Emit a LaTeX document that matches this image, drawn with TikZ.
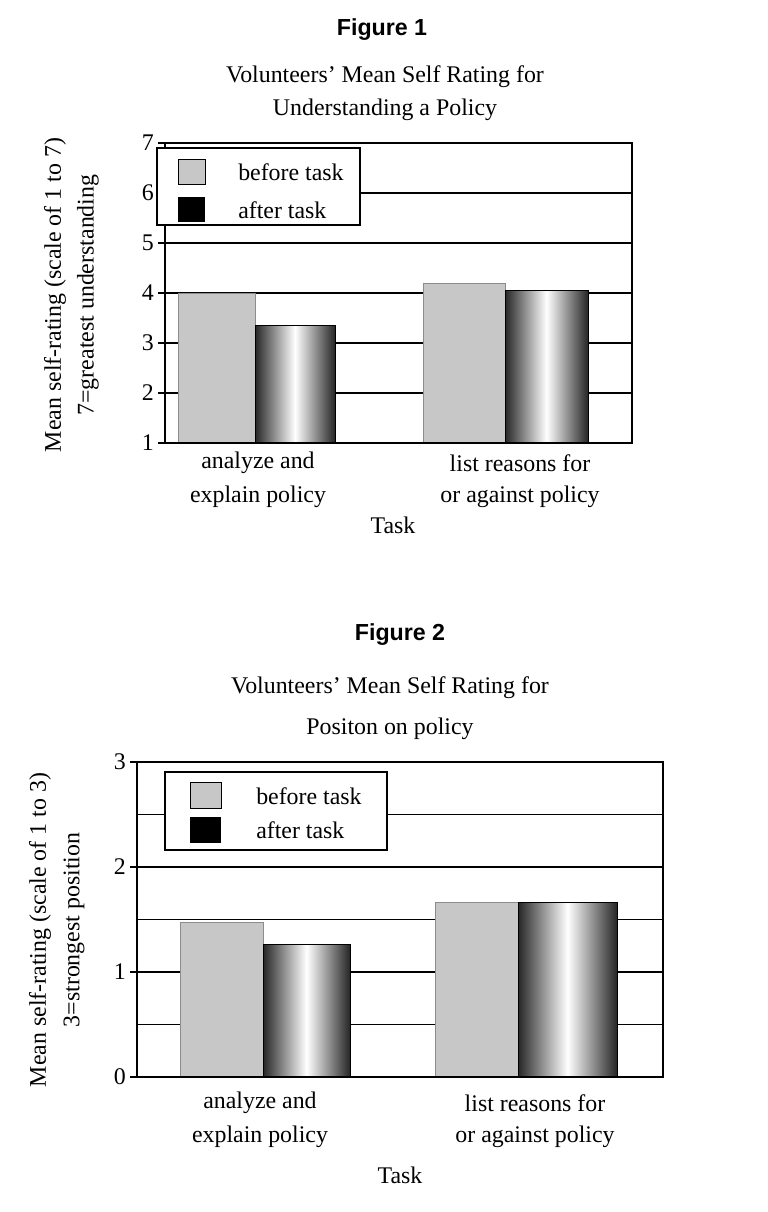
\documentclass[tikz,border=0pt]{standalone}
\usepackage{fontspec}
\setmainfont{Liberation Serif}
\newfontfamily\figsans{Liberation Sans}
\begin{document}
\begin{tikzpicture}[x=0.0265cm,y=-0.0265cm,
  txt/.style={font=\fontsize{18}{21}\selectfont,inner sep=0pt},
  ftitle/.style={font=\figsans\bfseries\fontsize{17.5}{20}\selectfont,inner sep=0pt},
  grid/.style={line width=0.9pt},
  frame/.style={draw,line width=1pt},
  before/.style={fill=black!22,draw=black!45,line width=0.4pt},
  after/.style={left color=black!85,right color=black!85,middle color=white,draw=black,line width=0.4pt}]
\useasboundingbox (0,0) rectangle (768,1212);
% ---------- Figure 1
\node[ftitle] (f1) at (382,30) {Figure 1};
\node[txt] (t1a) at (385,77) {Volunteers' Mean Self Rating for};
\node[txt] (t1b) at (385,110) {Understanding a Policy};
\foreach \v in {2,...,6} \draw[grid] (165,{443-(\v-1)*50}) -- (632,{443-(\v-1)*50});
\foreach \v in {1,...,7} {
  \draw[line width=0.9pt] (158,{443-(\v-1)*50}) -- (165,{443-(\v-1)*50});
  \node[txt,anchor=east] (y1\v) at (154,{443-(\v-1)*50}) {\v};}
\path[before] (178,293) rectangle (255,443);
\path[after] (255,325) rectangle (335,443);
\path[before] (423,283) rectangle (505,443);
\path[after] (505,290) rectangle (588,443);
\draw[frame] (165,143) rectangle (632,443);
\draw[fill=white,line width=0.8pt] (157,148) rectangle (360,225);
\path[before,draw=black] (178,159) rectangle (205,184);
\path[fill=black] (178,197) rectangle (205,222);
\node[txt,anchor=west] (l1a) at (238,172) {before task};
\node[txt,anchor=west] (l1b) at (238,210) {after task};
\node[txt] (c1a) at (258,463) {analyze and};
\node[txt] (c1b) at (258,497) {explain policy};
\node[txt] (c2a) at (520,463) {list reasons for};
\node[txt] (c2b) at (520,497) {or against policy};
\node[txt] (x1) at (393,525) {Task};
\node[txt,rotate=90] (ya1) at (55,295) {Mean self-rating (scale of 1 to 7)};
\node[txt,rotate=90] (yb1) at (88,295) {7=greatest understanding};
% ---------- Figure 2
\node[ftitle] (f2) at (400,635) {Figure 2};
\node[txt] (t2a) at (390,688) {Volunteers' Mean Self Rating for};
\node[txt] (t2b) at (390,729) {Positon on policy};
\foreach \v in {0.5,1,1.5,2,2.5} \draw[grid] (137,{1077-\v*105}) -- (663,{1077-\v*105});
\foreach \v in {0,1,2,3} {
  \draw[line width=0.9pt] (130,{1077-\v*105}) -- (137,{1077-\v*105});
  \node[txt,anchor=east] (y2\v) at (126,{1077-\v*105}) {\v};}
\path[before] (180,922) rectangle (263,1077);
\path[after] (263,944) rectangle (350,1077);
\path[before] (435,902) rectangle (518,1077);
\path[after] (518,902) rectangle (617,1077);
\draw[frame] (137,762) rectangle (663,1077);
\draw[fill=white,line width=0.8pt] (165,772) rectangle (387,850);
\path[before,draw=black] (190,782) rectangle (221,808);
\path[fill=black] (190,817) rectangle (221,843);
\node[txt,anchor=west] (l2a) at (256,796) {before task};
\node[txt,anchor=west] (l2b) at (256,830) {after task};
\node[txt] (d1a) at (260,1103) {analyze and};
\node[txt] (d1b) at (260,1137) {explain policy};
\node[txt] (d2a) at (535,1103) {list reasons for};
\node[txt] (d2b) at (535,1137) {or against policy};
\node[txt] (x2) at (400,1175) {Task};
\node[txt,rotate=90] (ya2) at (40,930) {Mean self-rating (scale of 1 to 3)};
\node[txt,rotate=90] (yb2) at (74,930) {3=strongest position};
\end{tikzpicture}
\end{document}
